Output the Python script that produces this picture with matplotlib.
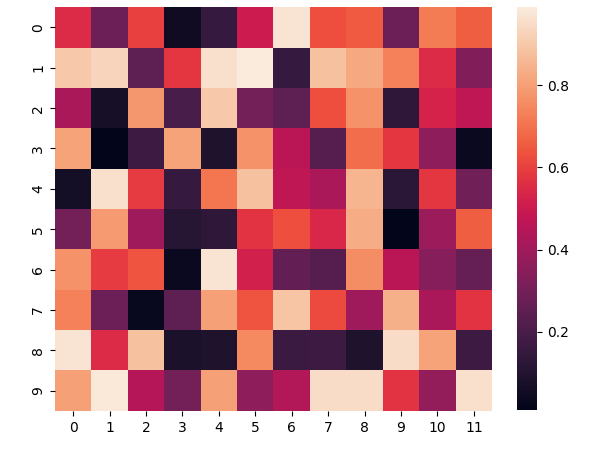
import numpy as np
import matplotlib
matplotlib.use('Agg')
import matplotlib.pyplot as plt
import seaborn as sns

row0 = [0.55, 0.28, 0.60, 0.05, 0.15, 0.50, 0.97, 0.63, 0.65, 0.28, 0.72, 0.66]
row1 = [0.90, 0.93, 0.25, 0.58, 0.96, 0.99, 0.15, 0.88, 0.82, 0.73, 0.55, 0.33]
row2 = [0.42, 0.07, 0.78, 0.20, 0.90, 0.30, 0.25, 0.63, 0.77, 0.13, 0.53, 0.47]
row3 = [0.81, 0.01, 0.17, 0.81, 0.09, 0.77, 0.46, 0.23, 0.69, 0.58, 0.36, 0.04]
row4 = [0.06, 0.96, 0.59, 0.15, 0.71, 0.88, 0.47, 0.42, 0.85, 0.12, 0.58, 0.29]
row5 = [0.30, 0.79, 0.40, 0.11, 0.13, 0.57, 0.63, 0.54, 0.83, 0.01, 0.39, 0.66]
row6 = [0.77, 0.59, 0.64, 0.04, 0.97, 0.52, 0.26, 0.23, 0.76, 0.46, 0.34, 0.27]
row7 = [0.73, 0.28, 0.03, 0.25, 0.80, 0.64, 0.89, 0.62, 0.40, 0.84, 0.42, 0.57]
row8 = [0.97, 0.55, 0.88, 0.08, 0.09, 0.75, 0.16, 0.17, 0.09, 0.95, 0.81, 0.17]
row9 = [0.80, 0.98, 0.45, 0.30, 0.80, 0.36, 0.44, 0.95, 0.95, 0.57, 0.37, 0.96]

data = np.array([row0, row1, row2, row3, row4, row5, row6, row7, row8, row9])

fig = plt.figure(figsize=(6.03, 4.51), dpi=100)
ax = fig.add_axes([0.091, 0.089, 0.725, 0.895])
cax = fig.add_axes([0.857, 0.091, 0.034, 0.893])

sns.heatmap(data, ax=ax, cbar_ax=cax, cmap='rocket')
ax.set_yticklabels(ax.get_yticklabels(), rotation=90, va='center')
cax.tick_params(labelsize=10)

fig.savefig('out.png', dpi=100)
